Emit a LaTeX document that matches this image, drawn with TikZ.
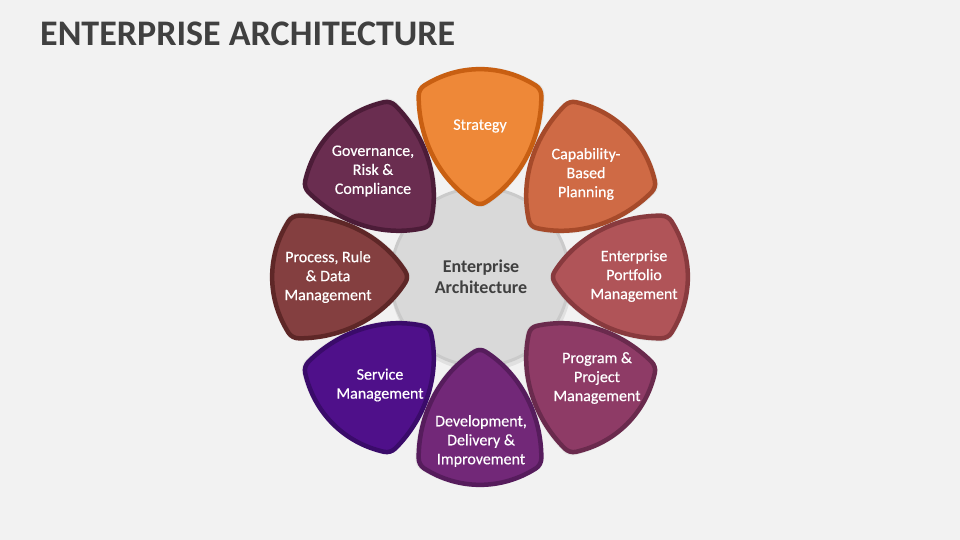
\documentclass[tikz,border=0pt]{standalone}
\usepackage{fontspec}
\setmainfont{Carlito}
\newfontfamily\petalfont[FakeBold=0.4]{Carlito}
\definecolor{bg}{HTML}{F2F2F2}
\definecolor{titlegray}{HTML}{404040}
\definecolor{hubfill}{HTML}{D9D9D9}
\definecolor{hubline}{HTML}{CACACA}
\definecolor{fStrategy}{HTML}{EE8838}\definecolor{dStrategy}{HTML}{C85F12}
\definecolor{fCapab}{HTML}{CF6A45}\definecolor{dCapab}{HTML}{A64A2A}
\definecolor{fPortf}{HTML}{B05458}\definecolor{dPortf}{HTML}{883A3E}
\definecolor{fProgr}{HTML}{8E3B66}\definecolor{dProgr}{HTML}{6A2A4D}
\definecolor{fDevel}{HTML}{722878}\definecolor{dDevel}{HTML}{561C5C}
\definecolor{fServ}{HTML}{4F108A}\definecolor{dServ}{HTML}{3A0B6A}
\definecolor{fProc}{HTML}{843F40}\definecolor{dProc}{HTML}{5E2727}
\definecolor{fGov}{HTML}{6A2D50}\definecolor{dGov}{HTML}{4C1C38}
\newcommand{\petalshape}{(-74.39,6) arc[start angle=150,end angle=210,radius=12]
  arc[start angle=210,end angle=270,radius=122.85]
  arc[start angle=270,end angle=330,radius=12]
  arc[start angle=330,end angle=390,radius=122.85]
  arc[start angle=30,end angle=90,radius=12]
  arc[start angle=90,end angle=150,radius=122.85] -- cycle}
% #1 angle, #2 fill, #3 border
\newcommand{\drawpetal}[3]{%
  \begin{scope}[shift={(480,263)}, rotate=#1, shift={(149,0)}, yscale=0.91]
    \fill[black, opacity=0.04] [shift={(0,-1)}, scale=1.04] \petalshape;
    \fill[black, opacity=0.08] [shift={(1,-2.5)}] \petalshape;
    \filldraw[fill=#2, draw=#3, line width=4.5pt, line join=round] \petalshape;
  \end{scope}}
\tikzset{
  ptext/.style={text=white, align=center, inner sep=0pt, font=\petalfont\fontsize{16}{19}\selectfont},
  hubtext/.style={text=titlegray, align=center, inner sep=0pt, font=\bfseries\fontsize{18}{21}\selectfont},
  titletext/.style={text=titlegray, anchor=base west, inner sep=0pt, font=\bfseries\fontsize{36}{40}\selectfont}
}
\begin{document}
\begin{tikzpicture}[x=1pt,y=1pt]
\fill[bg] (0,0) rectangle (960,540);
\useasboundingbox (0,0) rectangle (960,540);
\node[titletext] (title) at (40,494) {ENTERPRISE ARCHITECTURE};
% hub
\fill[black, opacity=0.07] (481,259.5) circle[radius=91];
\filldraw[fill=hubfill, draw=hubline, line width=3pt] (480,263) circle[radius=89];
\node[hubtext] (hub) at (481,263) {Enterprise\\Architecture};
% petals
\drawpetal{90}{fStrategy}{dStrategy}
\drawpetal{45}{fCapab}{dCapab}
\drawpetal{0}{fPortf}{dPortf}
\drawpetal{-45}{fProgr}{dProgr}
\drawpetal{-90}{fDevel}{dDevel}
\drawpetal{-135}{fServ}{dServ}
\drawpetal{180}{fProc}{dProc}
\drawpetal{135}{fGov}{dGov}
\node[ptext] (strategy) at (480,414) {Strategy};
\node[ptext] (capab) at (586,366) {Capability-\\Based\\Planning};
\node[ptext] (portf) at (634,264) {Enterprise\\Portfolio\\Management};
\node[ptext] (progr) at (597,162) {Program \&\\Project\\Management};
\node[ptext] (devel) at (481,99) {Development,\\Delivery \&\\Improvement};
\node[ptext] (serv) at (380,155) {Service\\Management};
\node[ptext] (proc) at (328,263) {Process, Rule\\\& Data\\Management};
\node[ptext] (gov) at (373,369) {Governance,\\Risk \&\\Compliance};
\end{tikzpicture}
\end{document}
